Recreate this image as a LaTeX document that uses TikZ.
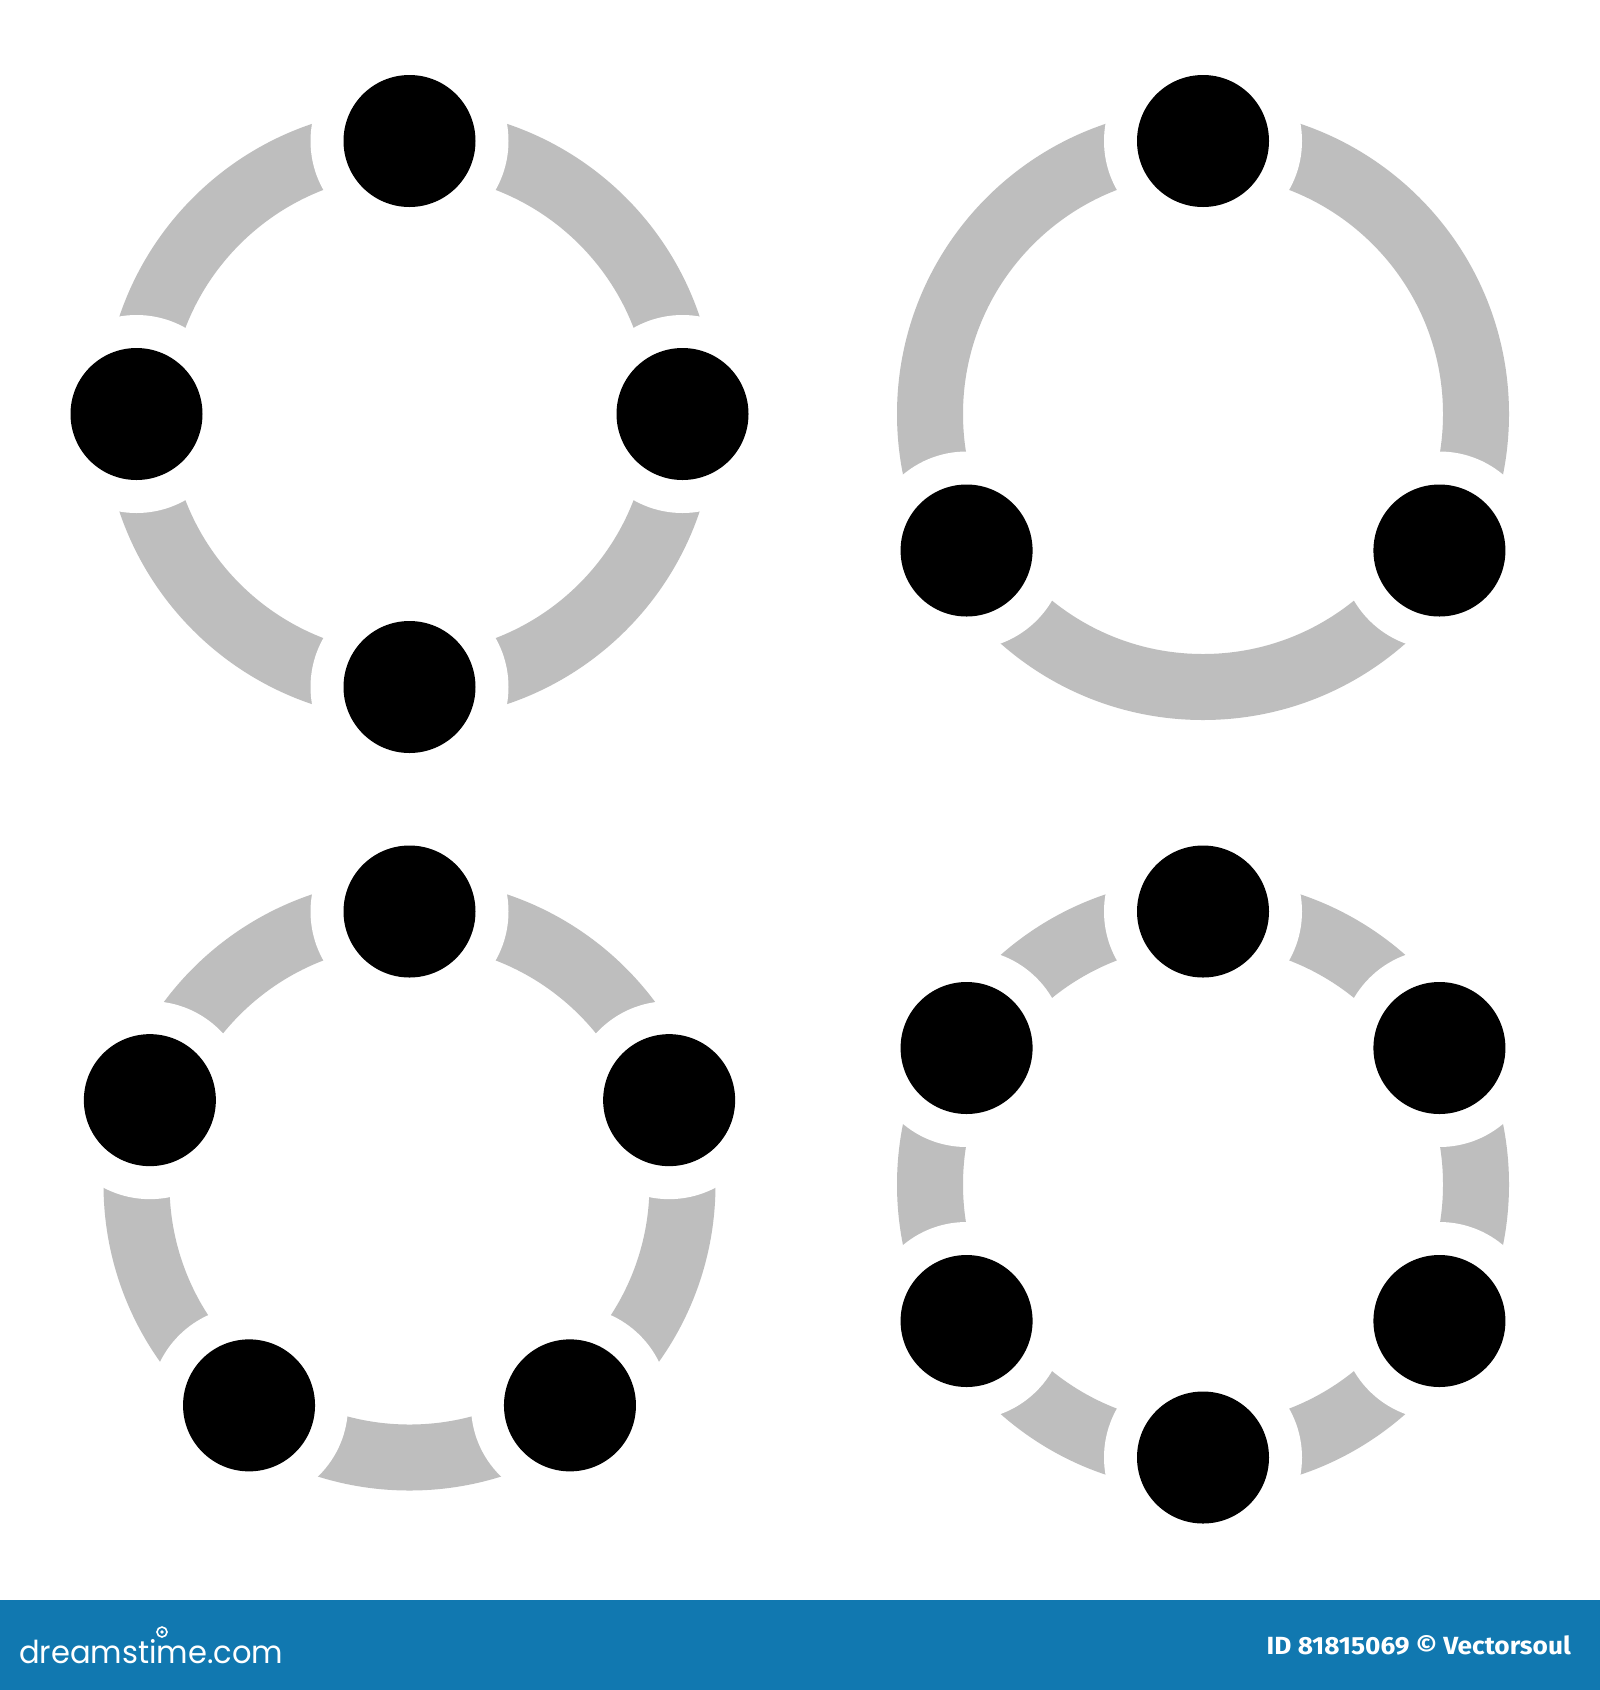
\documentclass[tikz,border=0pt]{standalone}
\usepackage{fontspec}
\setmainfont{Poppins}
\newfontfamily\idfont{Fira Sans}
\definecolor{ringgray}{RGB}{190,190,190}
\definecolor{footblue}{RGB}{17,120,176}
\begin{document}
\begin{tikzpicture}[x=1pt,y=-1pt,
  ring/.style={draw=ringgray, line width=66pt},
  halo/.style={fill=white},
  blackdot/.style={circle, fill=black, minimum size=132pt, inner sep=0pt, draw=none},
  foottext/.style={inner sep=0pt, text=white}]
\useasboundingbox (0,0) rectangle (1600,1690);
\fill[white] (0,0) rectangle (1600,1690);
\foreach \cx/\cy/\n/\nm in {409.5/414/4/a, 1203/414/3/b, 409.5/1184.5/5/c, 1203/1184.5/6/d} {
  \begin{scope}[shift={(\cx,\cy)}]
    \draw[ring] (0,0) circle[radius=273pt];
    \foreach \k in {1,...,\n} {
      \fill[halo] ({90+360*\k/\n}:273pt) circle[radius=99pt];
    }
    \foreach \k in {1,...,\n} {
      \node[blackdot] (\nm\k) at ({90+360*\k/\n}:273pt) {};
    }
  \end{scope}
}
\fill[footblue] (0,1600) rectangle (1600,1690);
\node[foottext, anchor=base west] (logo) at (19,1663) {\resizebox{264pt}{24pt}{dreamstime.com}};
\draw[white, line width=1.6pt] (162,1632) circle[radius=5pt];
\fill[white] (162,1632) circle[radius=1.8pt];
\node[foottext, anchor=base east] (credit) at (1571,1654) {\resizebox{304pt}{19pt}{\idfont\bfseries ID 81815069 © Vectorsoul}};
\end{tikzpicture}
\end{document}
